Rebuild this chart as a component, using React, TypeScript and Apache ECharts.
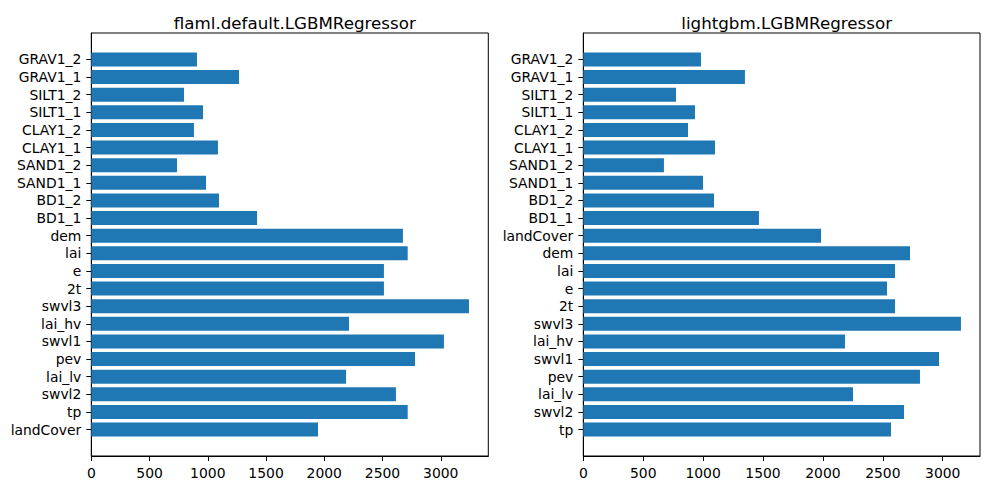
import React, { useEffect, useRef } from "react";
import * as echarts from "echarts";

// bottom-to-top order
const leftCategories = [
  "landCover", "tp", "swvl2", "lai_lv", "pev", "swvl1", "lai_hv", "swvl3", "2t", "e", "lai", "dem",
  "BD1_1", "BD1_2", "SAND1_1", "SAND1_2", "CLAY1_1", "CLAY1_2", "SILT1_1", "SILT1_2", "GRAV1_1", "GRAV1_2",
];
const leftValues = [
  1946, 2716, 2615, 2187, 2779, 3027, 2212, 3242, 2512, 2512, 2716, 2675,
  1423, 1096, 985, 736, 1087, 881, 959, 796, 1268, 907,
];
const rightCategories = [
  "tp", "swvl2", "lai_lv", "pev", "swvl1", "lai_hv", "swvl3", "2t", "e", "lai", "dem", "landCover",
  "BD1_1", "BD1_2", "SAND1_1", "SAND1_2", "CLAY1_1", "CLAY1_2", "SILT1_1", "SILT1_2", "GRAV1_1", "GRAV1_2",
];
const rightValues = [
  2568, 2677, 2251, 2810, 2969, 2184, 3152, 2602, 2535, 2602, 2727, 1984,
  1466, 1091, 999, 673, 1099, 874, 932, 774, 1349, 982,
];
const xTicks = [0, 500, 1000, 1500, 2000, 2500, 3000];
const titles = ["flaml.default.LGBMRegressor", "lightgbm.LGBMRegressor"];
const xMax = [3408, 3311];

const PAD_A = "__padA";
const PAD_B = "__padB";
const FONT = "DejaVu Sans";

export default function App() {
  const ref = useRef<HTMLDivElement>(null);
  useEffect(() => {
    if (!ref.current) return;
    const chart = echarts.init(ref.current, null, { renderer: "svg" });
    const grids = [
      { left: 91.3, top: 33, width: 397, height: 423 },
      { left: 583.3, top: 33, width: 396.7, height: 423 },
    ];
    const cats = [leftCategories, rightCategories];
    const vals = [leftValues, rightValues];
    const option: any = {
      animation: false,
      backgroundColor: "#fff",
      textStyle: { fontFamily: FONT },
      title: titles.map((t, i) => ({
        text: t,
        left: grids[i].left + grids[i].width / 2,
        top: 9,
        textAlign: "center",
        textStyle: { fontFamily: FONT, fontSize: 16.7, fontWeight: "normal", color: "#000" },
      })),
      grid: grids.map((g) => ({
        ...g,
        show: true,
        borderColor: "#000",
        borderWidth: 1,
        backgroundColor: "transparent",
        containLabel: false,
      })),
      xAxis: [0, 1].map((i) => ({
        type: "value",
        gridIndex: i,
        min: 0,
        max: xMax[i],
        splitLine: { show: false },
        axisLine: { show: true, lineStyle: { color: "#000", width: 1 } },
        axisTick: { show: true, length: 5, lineStyle: { color: "#000", width: 1 }, customValues: xTicks },
        axisLabel: {
          customValues: xTicks,
          color: "#000",
          fontSize: 13.9,
          fontFamily: FONT,
          margin: 10,
          formatter: (v: number) => String(v),
        },
      })),
      yAxis: [0, 1].map((i) => ({
        type: "category",
        gridIndex: i,
        data: [PAD_A, ...cats[i], PAD_B],
        axisLine: { show: true, lineStyle: { color: "#000", width: 1 } },
        axisTick: {
          show: true,
          length: 5,
          alignWithLabel: true,
          interval: (_idx: number, v: string) => v !== PAD_A && v !== PAD_B,
          lineStyle: { color: "#000", width: 1 },
        },
        axisLabel: {
          interval: 0,
          color: "#000",
          fontSize: 13.9,
          fontFamily: FONT,
          margin: 10,
          formatter: (v: string) => (v === PAD_A || v === PAD_B ? "" : v),
        },
        splitLine: { show: false },
      })),
      series: [0, 1].map((i) => ({
        type: "bar",
        xAxisIndex: i,
        yAxisIndex: i,
        data: [null, ...vals[i], null],
        barWidth: "80%",
        itemStyle: { color: "#1f77b4" },
      })),
    };
    chart.setOption(option);
    return () => chart.dispose();
  }, []);
  return (
    <div
      ref={ref}
      style={{ position: "fixed", left: 0, top: 0, width: 989, height: 490 }}
    />
  );
}
